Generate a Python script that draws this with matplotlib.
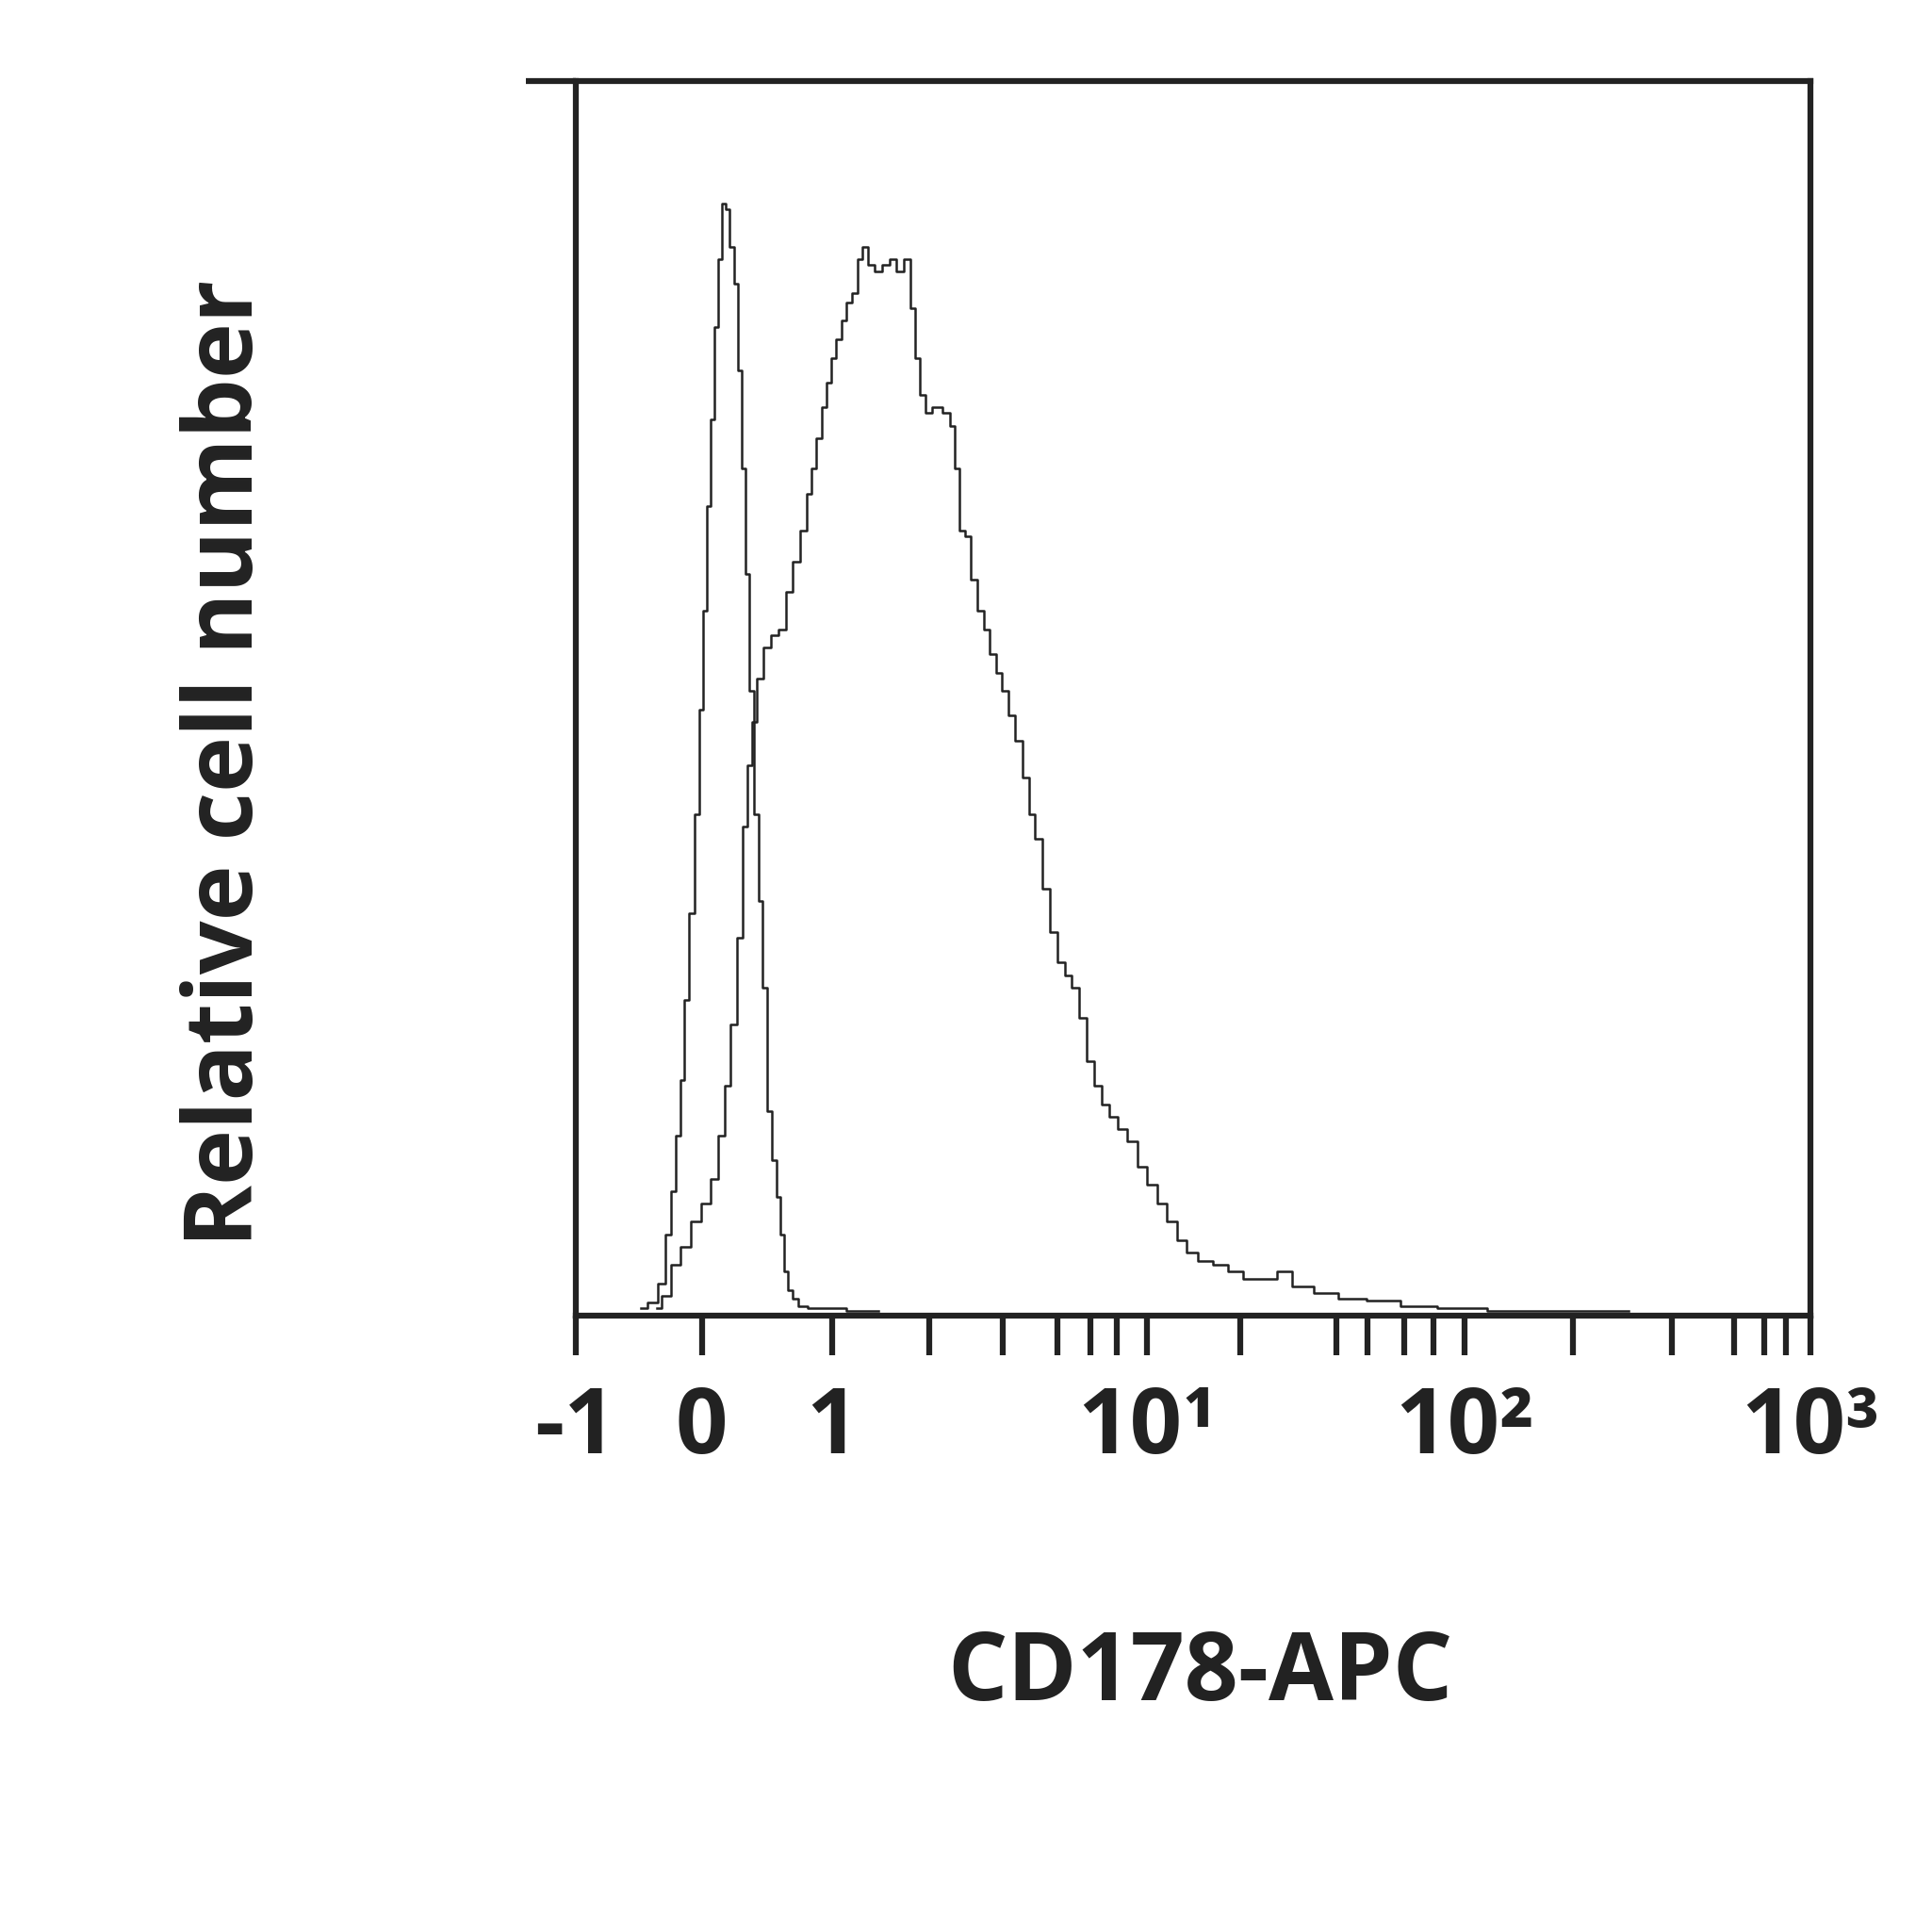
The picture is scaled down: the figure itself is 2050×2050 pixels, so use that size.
import matplotlib.pyplot as plt

# x values are instrument channels (0-1000, display scale), y values are relative counts (0-100)
iso_ch = [53, 63, 70, 75, 79, 83, 86, 90, 94, 98, 102, 105, 108, 111, 114, 117, 120, 123, 126, 130,
          133, 136, 139, 142, 146, 150, 153, 157, 161, 164, 167, 170, 174, 178, 183, 193, 245]
iso_y = [0.6, 1.1, 2.6, 6.6, 10.1, 14.6, 19.1, 25.6, 32.6, 40.6, 49.1, 57.1, 65.6, 72.6, 80.1, 85.6,
         90.1, 89.6, 86.6, 83.6, 76.6, 68.6, 60.1, 50.6, 40.6, 33.6, 26.6, 16.6, 12.6, 9.6, 6.6, 3.6,
         2.1, 1.4, 0.8, 0.6, 0.4]

cd_px = [533, 540, 548, 556, 565, 572, 580, 585, 590, 595, 600, 604, 608, 612, 616, 622, 628, 634, 640,
         646, 652, 656, 660, 664, 668, 672, 676, 680, 684, 688, 693, 697, 701, 706, 712, 718, 724, 730,
         736, 740, 744, 748, 752, 760, 768, 772, 776, 780, 784, 790, 795, 800, 805, 810, 815, 820, 826,
         832, 836, 842, 848, 854, 860, 866, 872, 878, 884, 890, 896, 902, 910, 918, 926, 934, 942, 950,
         958, 966, 976, 990, 1000, 1015, 1030, 1040, 1055, 1075, 1095, 1120, 1150, 1180, 1230, 1320]
cd_py = [1060, 1050, 1025, 1010, 990, 975, 955, 920, 880, 830, 760, 670, 620, 585, 550, 525, 515, 510,
         480, 455, 430, 400, 380, 355, 330, 310, 290, 275, 260, 245, 238, 210, 200, 215, 220, 215, 210,
         220, 210, 250, 290, 320, 335, 330, 335, 345, 380, 430, 435, 470, 495, 510, 530, 545, 560, 580,
         600, 630, 660, 680, 720, 755, 780, 790, 800, 825, 860, 880, 895, 905, 915, 925, 945, 960, 975,
         990, 1005, 1015, 1022, 1025, 1030, 1036, 1036, 1030, 1042, 1048, 1052, 1054, 1058, 1060, 1062,
         1062]
cd_ch = [p - 467 for p in cd_px]
cd_y = [(1066 - p) / 10 for p in cd_py]

major_ch = [0, 102, 208, 463, 720, 1000]
major_lab = ['-1', '0', '1', '10¹', '10²', '10³']
minor_ch = [286, 346, 390, 417, 438, 538, 616, 641, 671, 695, 808, 888, 938, 963, 980]

fig = plt.figure(figsize=(20.5, 20.5), dpi=100)
ax = fig.add_axes([0.298, 0.319, 0.639, 0.639])
ax.step(iso_ch, iso_y, where='mid', color='#222222', lw=1.8)
ax.step(cd_ch, cd_y, where='mid', color='#222222', lw=1.8)
ax.set_xlim(0, 1000)
ax.set_ylim(0, 100)
for s in ax.spines.values():
    s.set_linewidth(4.5)
    s.set_color('#222222')
ax.set_xticks(major_ch)
ax.set_xticklabels(major_lab, fontfamily='Open Sans', fontweight='bold', fontsize=70, color='#222222')
ax.set_xticks(minor_ch, minor=True)
ax.tick_params(axis='x', which='both', direction='out', length=30, width=4.5, color='#222222', pad=22)
ax.set_yticks([100])
ax.set_yticklabels([''])
ax.tick_params(axis='y', direction='out', length=38, width=4.5, color='#222222')

fig.text(0.621, 0.133, 'CD178-APC', ha='center', va='center', fontfamily='Open Sans',
         fontweight='bold', fontsize=72, color='#222222')
fig.text(0.118, 0.605, 'Relative cell number', ha='center', va='center', rotation=90,
         fontfamily='Open Sans', fontweight='bold', fontsize=72, color='#222222')

fig.savefig('out.png', dpi=100, facecolor='white')
